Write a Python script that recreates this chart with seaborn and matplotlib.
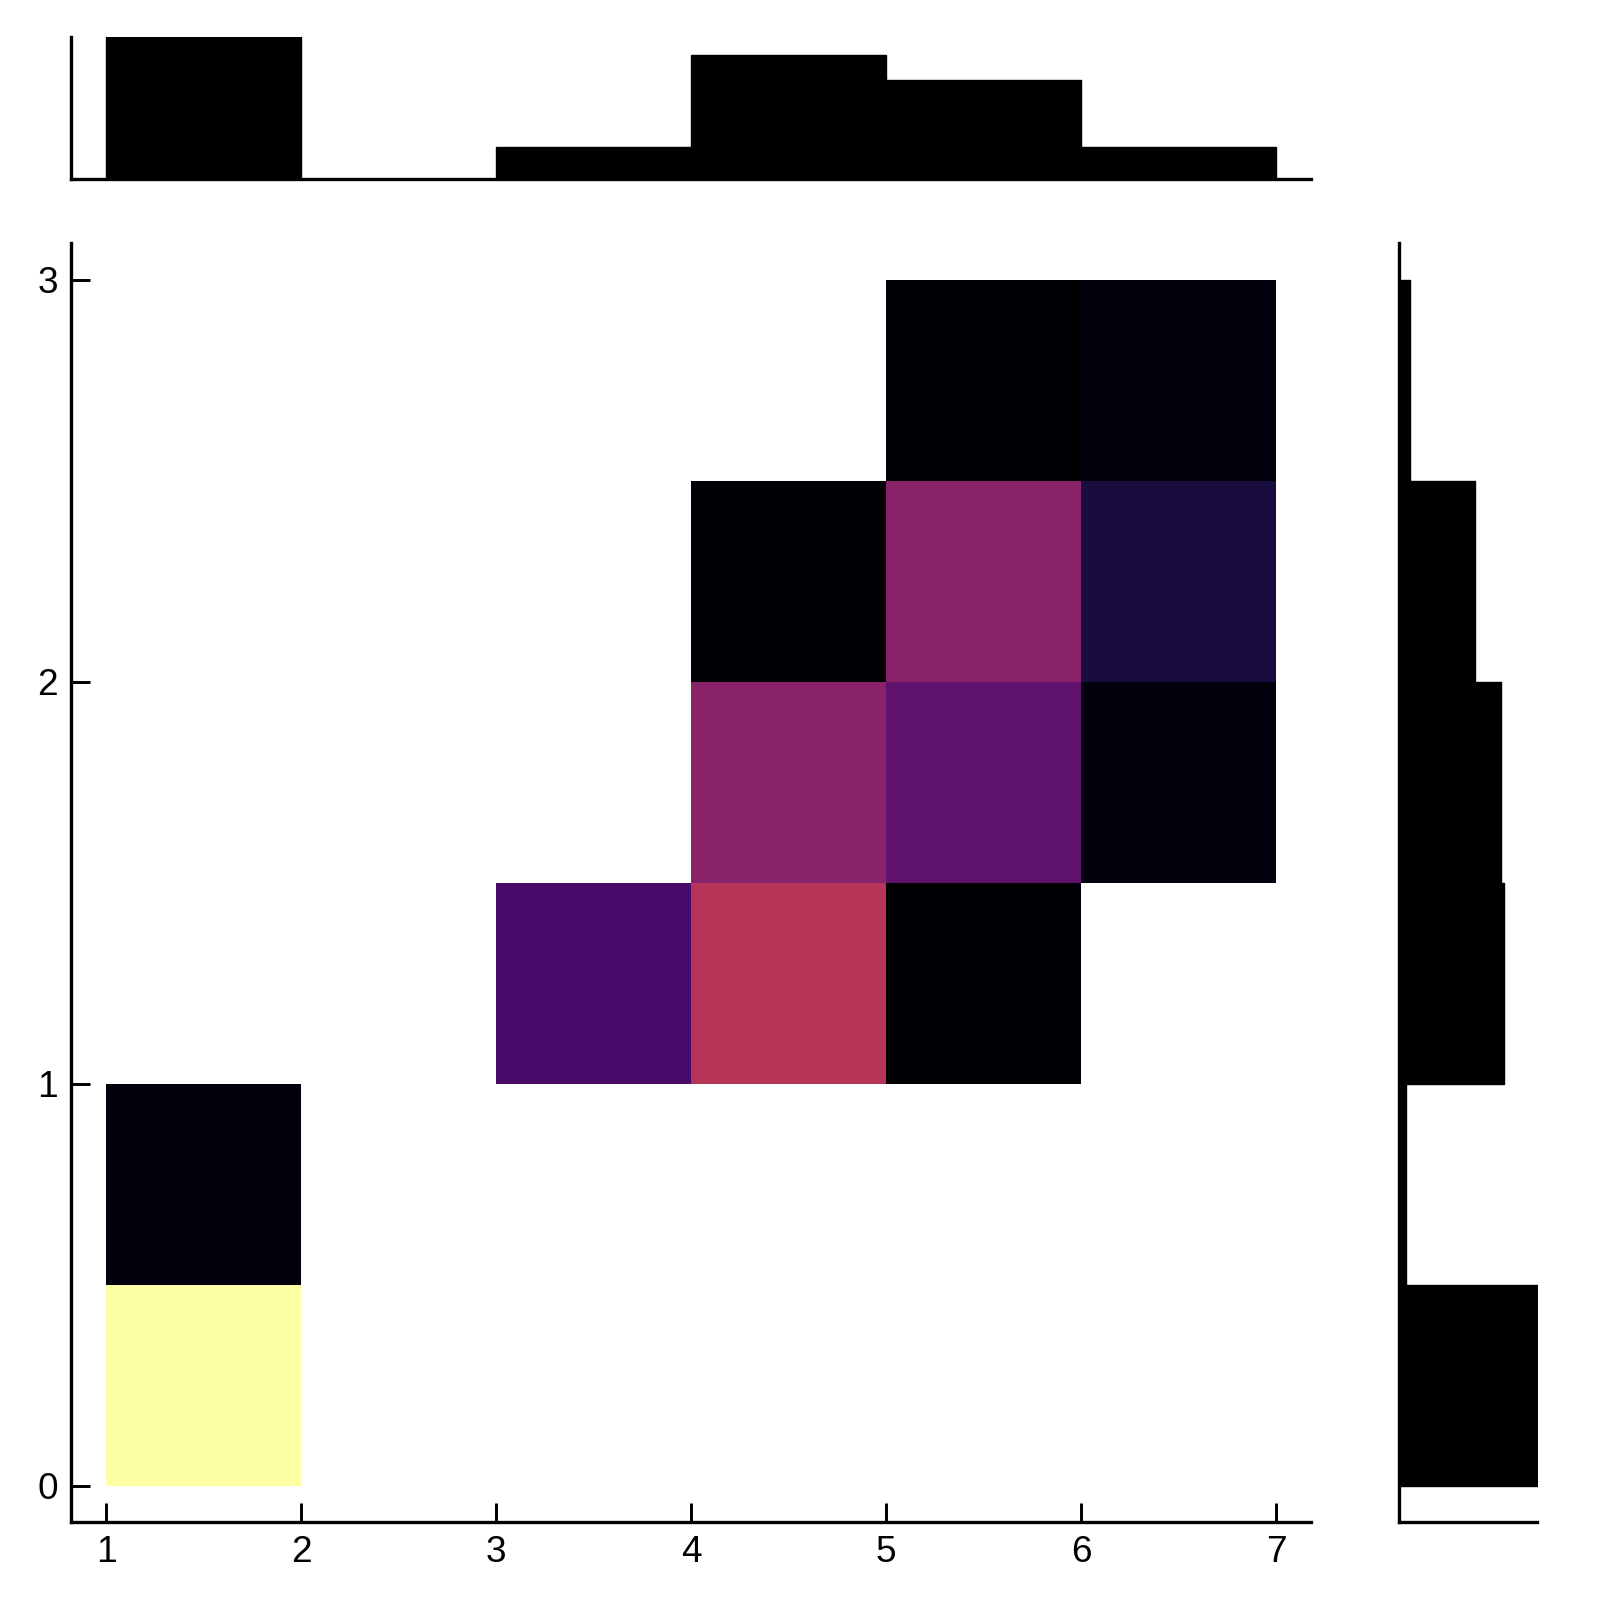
import numpy as np
import matplotlib
matplotlib.use("Agg")
import matplotlib.pyplot as plt
import seaborn as sns

# ---- data -------------------------------------------------------------
x_edges = [1, 2, 3, 4, 5, 6, 7]
y_edges = [0, 0.5, 1, 1.5, 2, 2.5, 3]
x_ticks = [1, 2, 3, 4, 5, 6, 7]
y_ticks = [0, 1, 2, 3]
# counts[row=y bin][col=x bin]
counts = [
    [38, 0, 0, 0, 0, 0],    # y 0.0-0.5
    [2, 0, 0, 0, 0, 0],     # y 0.5-1.0
    [0, 0, 9, 19, 1, 0],    # y 1.0-1.5
    [0, 0, 0, 15, 11, 2],   # y 1.5-2.0
    [0, 0, 0, 1, 15, 5],    # y 2.0-2.5
    [0, 0, 0, 0, 1, 2],     # y 2.5-3.0
]

# ---- build long-form weighted table -----------------------------------
xc = [(a + b) / 2 for a, b in zip(x_edges[:-1], x_edges[1:])]
yc = [(a + b) / 2 for a, b in zip(y_edges[:-1], y_edges[1:])]
XX, YY = np.meshgrid(xc, yc)
W = np.array(counts, dtype=float)
xs, ys, ws = XX.ravel(), YY.ravel(), W.ravel()
c_min = W[W > 0].min()
c_max = W.max()

# ---- style ------------------------------------------------------------
sns.set_style("white")
plt.rcParams["font.family"] = ["Liberation Sans", "DejaVu Sans"]
S = 4 / 3  # pt scaling for 8in @200dpi to match 6in @266dpi look
plt.rcParams.update({
    "font.size": 10 * S,
    "axes.linewidth": 0.9 * S,
    "axes.edgecolor": "black",
    "xtick.direction": "in",
    "ytick.direction": "in",
    "xtick.major.size": 5 * S,
    "ytick.major.size": 5 * S,
    "xtick.major.width": 0.8 * S,
    "ytick.major.width": 0.8 * S,
    "xtick.major.pad": 3.5 * S,
    "ytick.major.pad": 3.5 * S,
    "xtick.color": "black",
    "ytick.color": "black",
    "xtick.bottom": True,
    "ytick.left": True,
})

fig = plt.figure(figsize=(8, 8), dpi=200)
ax = fig.add_axes([0.0444, 0.04875, 0.7750, 0.7991])
ax_top = fig.add_axes([0.0444, 0.88825, 0.7750, 0.08844])
ax_right = fig.add_axes([0.8745, 0.04875, 0.08594, 0.7991])

# joint histogram
sns.histplot(x=xs, y=ys, weights=ws, bins=[x_edges, y_edges],
             cmap="inferno", vmin=c_min, vmax=c_max, ax=ax)
ax.set_xlim(0.82, 7.18)
ax.set_ylim(-0.09, 3.09)
ax.set_xticks(x_ticks)
ax.set_yticks(y_ticks)
ax.set_xlabel("")
ax.set_ylabel("")
for s in ["top", "right"]:
    ax.spines[s].set_visible(False)

# marginal x
sns.histplot(x=xs, weights=ws, bins=x_edges, element="step", fill=True,
             color="black", alpha=1, linewidth=0.5, ax=ax_top)
ax_top.set_xlim(ax.get_xlim())
ax_top.set_ylim(0, W.sum(axis=0).max())
ax_top.set_xticks([])
ax_top.set_yticks([])
ax_top.set_xlabel("")
ax_top.set_ylabel("")
for s in ["top", "right"]:
    ax_top.spines[s].set_visible(False)

# marginal y
sns.histplot(y=ys, weights=ws, bins=y_edges, element="step", fill=True,
             color="black", alpha=1, linewidth=0.5, ax=ax_right)
ax_right.set_ylim(ax.get_ylim())
ax_right.set_xlim(0, W.sum(axis=1).max())
ax_right.set_xticks([])
ax_right.set_yticks([])
ax_right.set_xlabel("")
ax_right.set_ylabel("")
for s in ["top", "right"]:
    ax_right.spines[s].set_visible(False)

fig.savefig("out.png", dpi=200, facecolor="white")
